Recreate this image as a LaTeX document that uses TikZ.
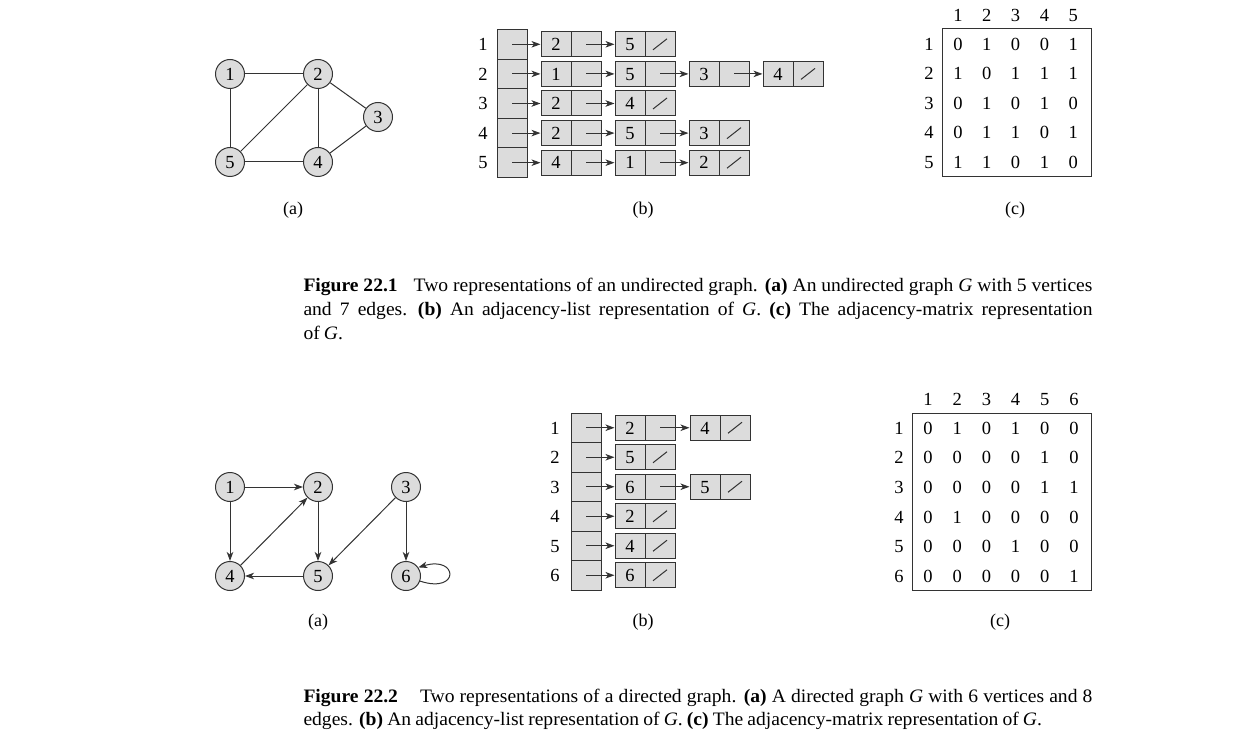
\documentclass[tikz,border=0pt]{standalone}
\usepackage{fontspec}
\setmainfont{Liberation Serif}
\newfontfamily\capfont[FakeStretch=1.03]{Liberation Serif}
\usetikzlibrary{arrows.meta}
\definecolor{linec}{HTML}{333333}
\definecolor{nodegray}{HTML}{DCDCDC}
\newcommand{\capsetup}{\capfont\hyphenpenalty=10000\exhyphenpenalty=10000\spaceskip=0.22em plus 0.35em minus 0.06em\xspaceskip=0.33em plus 0.4em minus 0.06em}
\begin{document}
\begin{tikzpicture}[x=1pt,y=-1pt,line width=1pt,
  numfont/.style={font=\fontsize{18.5}{18.5}\selectfont,text height=12.5pt,text depth=0pt},
  vtx/.style={circle,draw=linec,fill=nodegray,line width=1pt,minimum size=29,inner sep=0,numfont},
  edgeline/.style={draw=linec,line width=1pt},
  arr/.style={draw=linec,line width=1pt,-{Stealth[length=9,width=6.5,inset=2.5]}},
  hcell/.style={draw=linec,fill=nodegray,minimum width=30,minimum height=29.6,inner sep=0},
  kcell/.style={draw=linec,fill=nodegray,minimum width=30,minimum height=25,inner sep=0,numfont},
  pcell/.style={draw=linec,fill=nodegray,minimum width=30,minimum height=25,inner sep=0},
  slash/.style={draw=linec,line width=1pt},
  lbl/.style={numfont,inner sep=0},
  mbox/.style={draw=linec,line width=1pt,inner sep=0},
  sub/.style={font=\fontsize{18}{18}\selectfont,inner sep=0}]
\useasboundingbox (0,0) rectangle (1255,735);

% ---------- Figure 22.1 (a) ----------
\node[vtx] (a1) at (230,74) {1};
\node[vtx] (a2) at (318,74) {2};
\node[vtx] (a3) at (378,117) {3};
\node[vtx] (a4) at (318,162) {4};
\node[vtx] (a5) at (230,162) {5};
\draw[edgeline] (a1) -- (a2);
\draw[edgeline] (a1) -- (a5);
\draw[edgeline] (a2) -- (a5);
\draw[edgeline] (a2) -- (a4);
\draw[edgeline] (a2) -- (a3);
\draw[edgeline] (a3) -- (a4);
\draw[edgeline] (a5) -- (a4);
\node[sub] (la1) at (293,210) {(a)};

% ---------- Figure 22.1 (b) ----------
\foreach \r/\lst in {1/{2,5},2/{1,5,3,4},3/{2,4},4/{2,5,3},5/{4,1,2}}{
  \pgfmathsetmacro\yy{44.3+(\r-1)*29.6}
  \node[hcell] (tp-\r-0) at (512,\yy) {};
  \node[lbl] (tl-\r) at (483,\yy) {\r};
  \foreach \k [count=\c] in \lst {
    \pgfmathtruncatemacro\pc{\c-1}
    \pgfmathsetmacro\xx{541+(\c-1)*74}
    \node[kcell] (tk-\r-\c) at (\xx+15,\yy) {\k};
    \node[pcell] (tp-\r-\c) at (\xx+45,\yy) {};
    \draw[arr] (tp-\r-\pc.center) -- (tk-\r-\c.west);
    \xdef\lastc{\c}
  }
  \draw[slash] (tp-\r-\lastc.center) ++(-7,5.5) -- ++(14,-11);
}
\node[sub] (lb1) at (643,210) {(b)};

% ---------- Figure 22.1 (c) ----------
\node[mbox,minimum width=149,minimum height=148] (tbox) at (1016.5,103) {};
\foreach \j in {1,...,5}{
  \pgfmathsetmacro\mx{958+(\j-1)*28.8}
  \pgfmathsetmacro\my{44+(\j-1)*29.5}
  \node[lbl] (tch-\j) at (\mx,15) {\j};
  \node[lbl] (trh-\j) at (929,\my) {\j};
}
\foreach \row [count=\i] in {{0,1,0,0,1},{1,0,1,1,1},{0,1,0,1,0},{0,1,1,0,1},{1,1,0,1,0}}{
  \foreach \v [count=\j] in \row {
    \pgfmathsetmacro\mx{958+(\j-1)*28.8}
    \pgfmathsetmacro\my{44+(\i-1)*29.5}
    \node[lbl] (tm-\i-\j) at (\mx,\my) {\v};
  }
}
\node[sub] (lc1) at (1015,210) {(c)};

% ---------- Caption 22.1 ----------
\node[anchor=base west,inner sep=0] (cap1) at (303,291) {\parbox[t]{789pt}{\fontsize{19}{24}\capsetup\selectfont\textbf{Figure 22.1}\hspace{0.8em plus 0.4em}Two representations of an undirected graph. \textbf{(a)} An undirected graph \textit{G} with 5 vertices\linebreak and 7 edges. \textbf{(b)} An adjacency-list representation of \textit{G}. \textbf{(c)} The adjacency-matrix representation\linebreak of \textit{G}.}};

% ---------- Figure 22.2 (a) ----------
\node[vtx] (b1) at (230,487) {1};
\node[vtx] (b2) at (318,487) {2};
\node[vtx] (b3) at (406,487) {3};
\node[vtx] (b4) at (230,576) {4};
\node[vtx] (b5) at (318,576) {5};
\node[vtx] (b6) at (406,576) {6};
\draw[arr] (b1) -- (b2);
\draw[arr] (b1) -- (b4);
\draw[arr] (b4) -- (b2);
\draw[arr] (b2) -- (b5);
\draw[arr] (b5) -- (b4);
\draw[arr] (b3) -- (b5);
\draw[arr] (b3) -- (b6);
\draw[arr] (b6.-20) .. controls +(40,13) and +(40,-12) .. (b6.35);
\node[sub] (la2) at (318,622) {(a)};

% ---------- Figure 22.2 (b) ----------
\foreach \r/\lst in {1/{2,4},2/{5},3/{6,5},4/{2},5/{4},6/{6}}{
  \pgfmathsetmacro\yy{427.75+(\r-1)*29.5}
  \node[hcell,minimum height=29.5] (bp-\r-0) at (586,\yy) {};
  \node[lbl] (bl-\r) at (555,\yy) {\r};
  \foreach \k [count=\c] in \lst {
    \pgfmathtruncatemacro\pc{\c-1}
    \pgfmathsetmacro\xx{615+(\c-1)*75}
    \node[kcell] (bk-\r-\c) at (\xx+15,\yy) {\k};
    \node[pcell] (bp-\r-\c) at (\xx+45,\yy) {};
    \draw[arr] (bp-\r-\pc.center) -- (bk-\r-\c.west);
    \xdef\lastc{\c}
  }
  \draw[slash] (bp-\r-\lastc.center) ++(-7,5.5) -- ++(14,-11);
}
\node[sub] (lb2) at (643,622) {(b)};

% ---------- Figure 22.2 (c) ----------
\node[mbox,minimum width=179,minimum height=177] (bbox) at (1001.5,501.5) {};
\foreach \j in {1,...,6}{
  \pgfmathsetmacro\mx{928+(\j-1)*29.2}
  \pgfmathsetmacro\my{428+(\j-1)*29.6}
  \node[lbl] (bch-\j) at (\mx,399) {\j};
  \node[lbl] (brh-\j) at (899,\my) {\j};
}
\foreach \row [count=\i] in {{0,1,0,1,0,0},{0,0,0,0,1,0},{0,0,0,0,1,1},{0,1,0,0,0,0},{0,0,0,1,0,0},{0,0,0,0,0,1}}{
  \foreach \v [count=\j] in \row {
    \pgfmathsetmacro\mx{928+(\j-1)*29.2}
    \pgfmathsetmacro\my{428+(\i-1)*29.6}
    \node[lbl] (bm-\i-\j) at (\mx,\my) {\v};
  }
}
\node[sub] (lc2) at (1000,622) {(c)};

% ---------- Caption 22.2 ----------
\node[anchor=base west,inner sep=0] (cap2) at (303,702) {\parbox[t]{789pt}{\fontsize{19}{23}\capsetup\selectfont\textbf{Figure 22.2}\hspace{1.1em plus 0.4em}Two representations of a directed graph. \textbf{(a)} A directed graph \textit{G} with 6 vertices and 8\linebreak edges. \textbf{(b)} An adjacency-list representation of \textit{G}. \textbf{(c)} The adjacency-matrix representation of \textit{G}.}};
\end{tikzpicture}
\end{document}
